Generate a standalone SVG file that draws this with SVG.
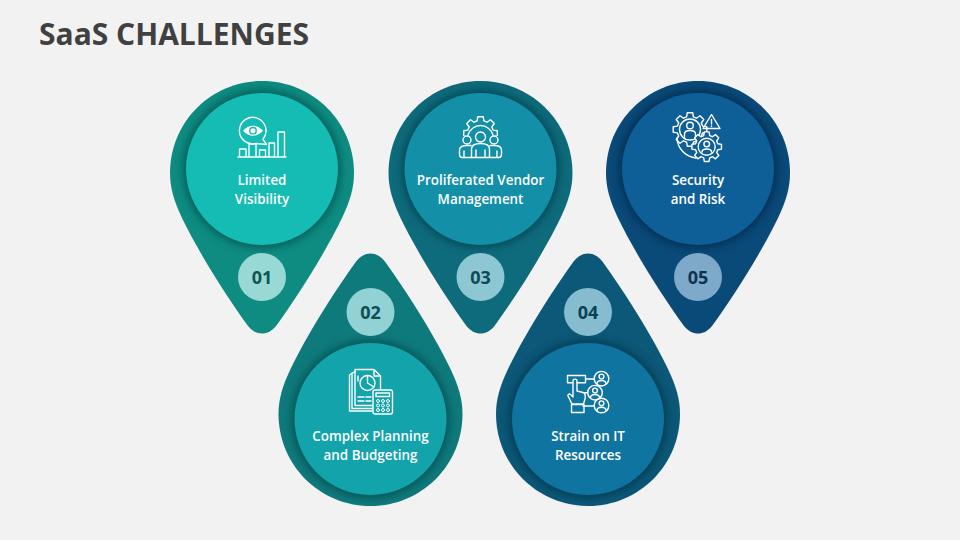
<svg xmlns="http://www.w3.org/2000/svg" width="960" height="540" viewBox="0 0 960 540">
<style>
text{font-family:"Open Sans","Liberation Sans",sans-serif;text-anchor:middle}
.title{font-size:30px;font-weight:700;fill:#404040;text-anchor:start}
.lab{font-size:13.400px;font-weight:600;fill:#fff}
.num{font-size:18px;font-weight:700}
.ic{fill:none;stroke:#fff;stroke-width:1.400;stroke-linejoin:round;stroke-linecap:round}
.w{fill:#fff;stroke:none}
</style>
<defs>
<path id="pin" d="M0-88C51-88 92-47 92 4C92 19 88 32 80 49C64 82 38 124 14 157C6 167-6 167-14 157C-38 124-64 82-80 49C-88 32-92 19-92 4C-92-47-51-88 0-88Z"/>
<path id="gear" d="M-12.600 3.400L-16.800 2.700V-2.700L-12.600-3.400L-11.300-6.500L-13.750-10L-10-13.750L-6.500-11.300L-3.400-12.600L-2.700-16.800H2.700L3.400-12.600L6.500-11.300L10-13.750L13.750-10L11.300-6.500L12.600-3.400L16.800-2.700V2.700L12.600 3.400L11.300 6.500L13.750 10L10 13.750L6.500 11.300L3.400 12.600L2.700 16.800H-2.700L-3.400 12.600L-6.500 11.300L-10 13.750L-13.750 10L-11.300 6.500Z"/>
<filter id="sh" x="-30%" y="-30%" width="160%" height="160%"><feGaussianBlur stdDeviation="4"/></filter>
</defs>
<rect width="960" height="540" fill="#f2f2f2"/>
<text class="title" x="39" y="45">SaaS CHALLENGES</text>

<g id="node-01">
<use href="#pin" x="262" y="169" fill="#0e8c82"/>
<circle cx="262" cy="169" r="79" fill="#04504c" opacity=".75" filter="url(#sh)"/>
<circle cx="262" cy="169" r="76" fill="#14bcb3"/>
<circle cx="262" cy="277" r="24" fill="#99d9d5"/>
<text class="num" x="262" y="283.500" fill="#0c5656">01</text>
<g class="ic">
<path d="M262.900 139.200A13.300 13.300 0 1 0 256.100 143.500L266.500 144.500Z"/>
<path class="w" d="M243 130.700C249 124 257 124 263 130.700C257 137.400 249 137.400 243 130.700Z"/>
<circle cx="253" cy="130.700" r="3.200" stroke="#14bcb3"/>
<path d="M238 157H286M239.500 157V149H246V157M249 157V144H256V157M259.500 157V150H265.500V157M269 157V143H274.500V157M278 157V132H284.500V157"/>
</g>
<text class="lab" x="262" y="185">Limited</text>
<text class="lab" x="262" y="204">Visibility</text>
</g>

<g id="node-02">
<use href="#pin" transform="translate(370.500 418) scale(1 -1)" fill="#0f7a7c"/>
<circle cx="370.500" cy="419" r="79" fill="#03484c" opacity=".75" filter="url(#sh)"/>
<circle cx="370.500" cy="419" r="76" fill="#12a3ab"/>
<circle cx="370.500" cy="312" r="24" fill="#92d2d5"/>
<text class="num" x="370.500" y="318.500" fill="#0c4f56">02</text>
<g class="ic" stroke-width="1.200">
<path d="M355 371.500L349.500 375V411H372"/>
<path d="M352 373V408.500H372"/>
<path d="M355 369.500H374L380.500 376V389M380.500 376H374V369.500M355 369.500V405.500H372"/>
<circle cx="367.500" cy="383" r="7.500"/>
<path d="M367.500 383V375.500M367.500 383L374 387M358 376V381M358 397H364M366 397H371M358 401H364M366 401H371"/>
<rect x="373" y="390" width="19.500" height="24" rx="2"/>
<rect x="376" y="393" width="13.500" height="3.500"/>
<g stroke-width="1"><circle cx="378" cy="401" r="1.500"/><circle cx="383" cy="401" r="1.500"/><circle cx="388" cy="401" r="1.500"/><circle cx="378" cy="405.500" r="1.500"/><circle cx="383" cy="405.500" r="1.500"/><circle cx="388" cy="405.500" r="1.500"/><circle cx="378" cy="410" r="1.500"/><circle cx="383" cy="410" r="1.500"/><circle cx="388" cy="410" r="1.500"/></g>
</g>
<text class="lab" x="370.500" y="441">Complex Planning</text>
<text class="lab" x="370.500" y="460">and Budgeting</text>
</g>

<g id="node-03">
<use href="#pin" x="480.500" y="169" fill="#0e6b7c"/>
<circle cx="480.500" cy="169" r="79" fill="#03404c" opacity=".75" filter="url(#sh)"/>
<circle cx="480.500" cy="169" r="76" fill="#1390a7"/>
<circle cx="480.500" cy="277" r="24" fill="#8cc7d3"/>
<text class="num" x="480.500" y="283.500" fill="#0c4a56">03</text>
<g class="ic">
<use href="#gear" x="480.500" y="133.500"/>
<rect x="458" y="136" width="45" height="23" fill="#1390a7" stroke="none"/>
<path d="M468 135A13 13 0 0 1 493 135"/>
<circle cx="480.500" cy="137" r="5"/><circle cx="467" cy="140" r="4"/><circle cx="494" cy="140" r="4"/>
<path d="M471.500 157.500V149C471.500 145 475 143.500 480.500 143.500C486 143.500 489.500 145 489.500 149V157.500ZM476 157.500V150M485 157.500V150"/>
<path d="M471.500 157.500H462C460 157.500 459.500 156 459.500 154V150C459.500 147 462 145.500 467 145.500H471M489.500 157.500H499C501 157.500 501.500 156 501.500 154V150C501.500 147 499 145.500 494 145.500H490M464 157.500V151M497 157.500V151"/>
</g>
<text class="lab" x="480.500" y="185">Proliferated Vendor</text>
<text class="lab" x="480.500" y="204">Management</text>
</g>

<g id="node-04">
<use href="#pin" transform="translate(588 418) scale(1 -1)" fill="#0c5878"/>
<circle cx="588" cy="419" r="79" fill="#03344c" opacity=".75" filter="url(#sh)"/>
<circle cx="588" cy="419" r="76" fill="#0f75a0"/>
<circle cx="588" cy="312" r="24" fill="#85bcd0"/>
<text class="num" x="588" y="318.500" fill="#0c3f56">04</text>
<g class="ic">
<path d="M573 382.700H567.500V375.500H585.500V382.700H577M585.500 379H594.500"/>
<circle cx="601.500" cy="378.700" r="7.300"/><circle cx="601.500" cy="376.500" r="2.400"/><path d="M597 383.500C597.500 379.500 605.500 379.500 606 383.500"/>
<circle cx="595" cy="392.700" r="7.300"/><circle cx="595" cy="390.500" r="2.400"/><path d="M590.500 397.500C591 393.500 599 393.500 599.500 397.500"/>
<circle cx="601.500" cy="405.500" r="7.300"/><circle cx="601.500" cy="403.300" r="2.400"/><path d="M597 410.300C597.500 406.300 605.500 406.300 606 410.300"/>
<path d="M587.700 392.700H584M583 406H594.200"/>
<path d="M573 393V381C573 378.500 577 378.500 577 381V391L583 392.500C585 393 585.500 396 585 399L583.500 404H572L568 396C567.500 394 569.500 393.500 570.500 394.500L573 397ZM571.500 404.500H584V412.500H571.500Z"/>
</g>
<text class="lab" x="588" y="441">Strain on IT</text>
<text class="lab" x="588" y="460">Resources</text>
</g>

<g id="node-05">
<use href="#pin" x="698" y="169" fill="#0a4a78"/>
<circle cx="698" cy="169" r="79" fill="#02284c" opacity=".75" filter="url(#sh)"/>
<circle cx="698" cy="169" r="76" fill="#0e5f97"/>
<circle cx="698" cy="277" r="24" fill="#7ea9c8"/>
<text class="num" x="698" y="283.500" fill="#0c3450">05</text>
<g class="ic">
<use href="#gear" x="690" y="129.500"/>
<circle cx="690" cy="129.500" r="10.500"/>
<circle cx="690" cy="125.500" r="3.300"/><path d="M684.500 137V134C684.500 131.500 687 130.500 690 130.500C693 130.500 695.500 131.500 695.500 134V137"/>
<path d="M677 138A21 21 0 0 0 696 158"/>
<use href="#gear" transform="translate(706.700 146.700) scale(.88)" fill="#0e5f97" stroke-width="1.600"/>
<circle cx="706.700" cy="146.700" r="8.500"/>
<circle cx="706.700" cy="144" r="2.800"/><path d="M702 152C702 148 711.500 148 711.500 152"/>
<path d="M711.500 114.500L720 128.500H703Z"/>
<path d="M711.500 119.500V124M711.500 126V126.500"/>
</g>
<text class="lab" x="698" y="185">Security</text>
<text class="lab" x="698" y="204">and Risk</text>
</g>
<g id="connectors"/>
</svg>
